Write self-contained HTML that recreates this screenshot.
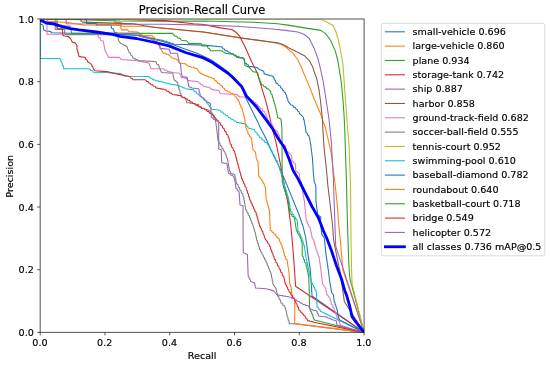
<!DOCTYPE html>
<html lang="en"><head><meta charset="utf-8"><title>Precision-Recall Curve</title>
<style>html,body{margin:0;padding:0;background:#fff}body{width:550px;height:367px;overflow:hidden}svg{display:block}text{font-family:"DejaVu Sans","Liberation Sans",sans-serif;fill:#000;stroke:#000;stroke-width:0.16px;stroke-linejoin:round}</style></head><body>
<svg width="550" height="367" viewBox="0 0 550 367">
<rect width="550" height="367" fill="#fff"/>
<defs><clipPath id="ax"><rect x="40.20" y="19.50" width="323.85" height="312.90"/></clipPath></defs>
<g clip-path="url(#ax)" fill="none" stroke-linejoin="round" stroke-linecap="butt">
<polyline stroke="#1f77b4" stroke-width="1.08" points="40.2,19.0 40.8,24.2 43.0,25.0 43.7,29.9 46.2,31.1 50.3,31.5 52.0,32.8 70.0,33.2 100.0,33.6 120.0,34.5 138.0,35.3 161.0,41.0 174.0,45.1 185.5,49.2 197.0,53.3 204.0,56.5 212.0,60.5 220.0,66.0 228.0,72.0 236.0,80.0 242.0,88.0 245.7,97.8 253.0,112.5 258.0,122.4 260.0,127.0 266.2,139.0 272.7,153.8 279.3,167.0 284.2,178.4 286.5,184.0 292.4,198.4 299.0,214.7 303.0,226.2 305.8,238.0 308.0,254.4 310.4,270.7 311.5,287.0 312.0,296.0 364.1,332.4"/>
<polyline stroke="#ff7f0e" stroke-width="1.08" points="40.2,19.0 114.8,19.0 114.8,22.5 121.0,22.5 121.3,26.2 144.5,26.2 156.8,27.7 165.0,28.5 204.0,32.2 240.0,37.9 269.5,42.0 277.0,43.2 281.0,44.6 285.8,47.0 288.0,49.2 293.0,53.3 297.8,59.8 301.0,66.4 303.0,71.5 309.3,86.4 315.8,102.7 320.7,114.2 324.0,124.0 325.5,128.0 328.0,139.0 331.4,153.8 333.0,168.5 335.1,184.0 337.4,206.5 339.0,227.8 340.3,240.0 341.5,254.4 343.0,270.7 364.1,332.4"/>
<polyline stroke="#2ca02c" stroke-width="1.08" points="40.2,19.0 80.0,19.6 120.0,21.0 165.0,21.3 204.0,21.0 253.0,22.2 277.6,23.8 288.0,25.1 304.4,27.9 320.7,30.4 325.6,33.6 330.5,40.2 335.5,51.6 338.0,61.5 339.7,72.0 341.2,81.5 342.8,97.8 344.0,114.2 344.7,128.0 345.3,147.3 346.0,167.0 346.5,184.0 347.2,214.7 348.0,240.0 348.8,262.5 349.5,274.0 350.2,280.0 351.8,285.5 364.1,332.4"/>
<polyline stroke="#d62728" stroke-width="1.08" points="40.2,19.0 120.0,19.4 165.0,20.6 193.6,23.8 204.0,24.6 220.4,27.9 231.8,29.5 236.7,32.8 240.0,36.9 245.0,46.7 251.5,61.5 256.8,72.0 261.3,86.4 266.2,102.7 269.5,115.8 272.0,127.5 276.0,142.4 279.3,158.7 282.5,175.0 284.0,183.0 287.9,203.3 290.7,224.5 292.2,240.0 294.0,262.5 295.6,286.3 364.1,332.4"/>
<polyline stroke="#9467bd" stroke-width="1.08" points="40.2,19.0 66.2,19.0 66.2,23.8 125.0,24.2 165.0,24.2 204.0,25.1 236.7,26.3 269.5,28.7 285.8,30.4 297.8,32.0 304.4,34.5 309.3,38.5 314.2,48.4 318.3,59.8 320.7,69.8 323.2,81.5 326.5,102.7 329.0,119.0 329.9,128.0 331.4,142.4 332.5,163.0 333.3,177.0 334.6,214.7 335.7,246.2 364.1,332.4"/>
<polyline stroke="#8c564b" stroke-width="1.08" points="40.2,19.0 80.8,19.0 80.8,20.9 82.5,22.1 120.0,23.4 134.0,23.8 144.5,25.8 156.8,27.5 165.0,28.3 204.0,32.0 240.0,37.7 269.5,41.8 276.0,42.6 281.0,43.8 285.0,45.5 288.0,47.5 296.2,51.6 304.4,55.7 309.3,60.6 312.5,66.4 314.2,71.8 316.6,78.2 319.0,89.6 320.7,102.7 322.4,119.0 322.8,128.0 324.0,147.3 326.5,170.2 327.7,184.0 330.0,203.3 332.5,224.5 333.6,240.0 337.4,259.3 340.6,274.0 342.3,287.0 343.0,292.2 344.4,301.7 364.1,332.4"/>
<polyline stroke="#e377c2" stroke-width="1.08" points="40.2,19.0 47.0,19.0 47.0,34.3 98.0,34.3 98.4,37.3 100.0,37.7 100.5,40.5 103.1,41.0 103.4,41.3 103.6,43.7 104.0,44.1 104.2,46.5 104.5,46.8 104.7,49.2 106.4,53.3 108.8,57.4 119.5,57.4 121.0,59.5 136.0,60.6 138.0,60.7 139.2,61.2 141.1,61.3 142.3,61.9 144.3,61.9 145.5,62.5 147.4,62.6 148.6,63.1 149.3,63.4 149.8,66.0 150.5,66.3 151.0,68.8 162.5,68.8 164.1,69.0 165.0,70.2 166.6,70.3 167.5,71.5 169.0,71.6 169.9,72.0 171.5,72.1 172.4,72.5 179.7,73.3 181.4,77.4 185.5,78.2 188.7,80.6 197.0,81.5 198.3,81.7 199.2,83.1 200.5,83.3 201.3,84.8 202.7,85.0 203.5,86.4 205.5,86.5 206.8,87.2 208.8,87.3 210.0,88.0 212.0,89.6 218.7,90.5 220.4,93.7 236.7,94.5 240.0,97.0 246.5,97.0 248.1,97.2 249.0,98.7 250.6,98.8 251.5,100.3 253.0,100.5 253.9,102.3 255.5,102.6 256.4,104.4 257.7,104.6 258.4,106.5 259.7,106.7 260.5,108.5 262.0,108.8 262.9,111.2 264.5,111.6 265.4,114.0 266.1,114.4 266.4,117.0 267.1,117.4 267.5,120.0 271.0,122.5 271.8,122.9 272.2,125.5 273.0,125.9 273.5,128.5 276.5,131.0 277.5,131.4 278.1,134.2 279.0,134.6 279.6,137.5 280.0,143.5 284.5,145.0 285.1,145.4 285.5,148.0 286.1,148.4 286.5,151.0 288.8,152.5 291.8,156.0 292.0,161.0 293.1,161.2 293.8,163.0 294.9,163.2 295.6,165.0 295.8,171.0 297.0,171.2 297.7,172.8 298.9,173.0 299.6,174.5 299.8,179.0 301.5,183.0 302.2,190.0 302.6,190.4 302.8,193.3 303.2,193.7 303.4,196.6 303.8,197.0 304.0,200.0 304.4,200.4 304.6,203.3 306.3,221.3 307.1,221.6 307.7,224.0 308.5,224.4 309.0,226.8 309.9,227.1 310.4,229.5 310.7,229.8 310.9,232.2 311.3,232.5 311.5,234.9 311.8,235.2 312.0,237.6 313.5,240.0 314.0,240.4 314.3,243.2 314.8,243.5 315.2,246.3 315.7,246.7 316.0,249.5 316.7,249.9 317.1,252.8 317.8,253.2 318.3,256.0 319.0,256.4 319.4,259.3 321.0,270.7 322.6,284.0 325.3,288.0 325.7,288.4 326.0,291.1 326.4,291.5 326.7,294.2 329.4,297.6 330.1,298.0 330.4,301.1 331.1,301.5 331.5,304.5 332.6,304.9 333.2,307.9 334.3,308.3 334.9,311.3 335.6,311.7 335.9,314.6 336.6,315.1 337.0,318.0 337.8,318.3 338.4,320.8 339.2,321.1 339.7,323.6 341.0,325.6 364.1,332.4"/>
<polyline stroke="#7f7f7f" stroke-width="1.08" points="40.2,19.0 55.2,19.0 55.2,29.5 64.6,29.5 64.6,33.6 66.0,34.6 117.6,34.7 118.5,40.5 121.0,43.8 122.7,44.0 123.8,45.2 125.5,45.4 126.5,46.7 127.3,47.0 127.8,49.6 128.5,49.9 129.0,52.5 130.2,52.8 131.0,55.4 132.2,55.7 133.0,58.2 134.6,58.3 135.5,59.4 137.1,59.5 138.0,60.6 154.4,61.5 155.9,61.8 156.9,64.3 158.4,64.7 159.3,67.2 161.0,71.3 161.7,72.5 172.4,73.3 172.9,73.7 173.2,76.5 173.7,76.9 174.0,79.8 177.3,82.3 177.8,82.7 178.2,85.9 178.7,86.4 179.0,89.6 179.7,90.0 180.2,93.3 180.9,93.7 181.4,97.0 185.5,98.6 187.0,102.7 189.1,102.8 190.3,103.3 192.4,103.3 193.7,103.8 195.7,103.9 197.0,104.4 198.5,104.6 199.4,106.5 200.9,106.7 201.8,108.5 204.0,108.6 205.4,109.5 207.6,109.6 209.0,110.5 210.2,110.8 211.0,112.8 212.2,113.0 213.0,115.0 213.8,115.3 214.2,117.8 215.0,118.2 215.5,120.7 216.6,128.0 218.0,140.7 218.7,141.0 219.2,143.1 219.9,143.4 220.4,145.6 221.4,145.9 222.0,148.3 223.0,148.7 223.7,151.1 224.7,151.4 225.3,153.8 226.0,154.2 226.5,157.5 227.2,157.9 227.7,161.2 228.1,161.6 228.3,164.2 228.6,164.6 228.8,167.2 229.2,167.6 229.4,170.2 231.0,173.5 234.3,174.3 234.8,174.7 235.2,177.9 235.7,178.4 236.0,181.6 237.0,184.0 237.9,184.4 238.5,187.0 239.4,187.4 240.0,190.0 241.0,190.4 241.7,193.3 242.7,193.8 243.3,196.7 243.7,197.1 243.9,200.0 244.3,200.4 244.5,203.2 244.9,203.6 245.1,206.5 245.5,206.9 245.7,209.8 246.5,210.1 247.1,212.5 247.9,212.9 248.4,215.3 249.3,215.6 249.8,218.0 250.5,218.3 250.9,220.7 251.5,221.1 251.9,223.5 252.6,223.8 253.0,226.2 253.5,226.5 253.8,228.9 254.4,229.3 254.7,231.7 255.2,232.0 255.5,234.4 255.8,234.7 256.1,237.2 256.4,237.5 256.6,240.0 257.2,240.4 257.6,243.2 258.2,243.5 258.6,246.3 259.2,246.7 259.6,249.5 260.4,249.8 260.9,252.1 261.7,252.4 262.2,254.7 263.1,255.0 263.6,257.3 264.4,257.6 264.9,259.9 265.7,260.2 266.2,262.5 266.9,262.8 267.4,265.4 268.1,265.7 268.6,268.2 269.3,268.6 269.8,271.1 270.5,271.5 271.0,274.0 271.4,274.4 271.6,277.3 272.0,277.7 272.3,280.7 272.7,281.1 272.9,284.0 275.6,288.0 276.0,288.3 276.3,290.8 276.7,291.1 277.0,293.5 277.4,293.9 277.7,296.3 278.7,296.7 279.4,299.6 280.4,300.1 281.0,303.0 282.3,303.3 283.1,305.5 284.4,305.8 285.2,308.0 285.6,308.3 285.9,310.9 286.3,311.2 286.5,313.8 286.9,314.1 287.2,316.7 287.9,317.1 288.2,320.1 288.9,320.6 289.3,323.6 294.7,323.8 364.1,332.4"/>
<polyline stroke="#bcbd22" stroke-width="1.08" points="40.2,19.0 320.7,19.1 327.3,22.2 333.0,25.5 335.5,30.4 338.0,38.5 340.4,50.0 342.8,63.1 343.5,72.0 344.5,86.4 345.6,102.7 347.0,119.0 347.5,128.0 348.9,142.4 349.9,167.0 350.5,184.0 351.0,240.0 351.6,270.7 352.1,284.0 364.1,332.4"/>
<polyline stroke="#17becf" stroke-width="1.08" points="40.2,19.0 40.2,58.5 59.7,58.5 60.5,58.9 61.1,61.9 61.9,62.3 62.4,65.4 63.3,65.8 63.8,68.8 88.4,68.8 89.9,69.0 90.8,70.5 92.4,70.8 93.3,72.3 106.4,72.5 121.0,73.6 125.0,76.2 147.8,76.5 149.3,76.7 150.2,78.2 151.8,78.3 152.7,79.8 154.7,79.9 156.0,80.6 158.0,80.7 159.2,81.5 161.3,81.6 162.5,82.3 164.5,82.4 165.8,83.1 167.8,83.2 169.0,83.9 170.7,84.0 171.8,84.4 173.5,84.5 174.5,85.0 176.2,85.0 177.3,85.5 179.0,85.6 180.0,86.6 181.7,86.7 182.8,87.7 184.5,87.8 185.5,88.8 192.0,89.6 193.6,89.8 194.5,91.7 196.1,91.9 197.0,93.7 198.5,93.9 199.4,95.8 200.9,96.0 201.8,97.8 203.3,98.1 204.2,100.2 205.8,100.5 206.7,102.7 207.7,103.0 208.3,104.9 209.2,105.2 209.8,107.1 210.8,107.4 211.4,109.3 218.7,110.0 220.2,110.2 221.1,111.9 222.7,112.1 223.6,113.8 225.1,114.0 226.1,115.6 227.6,115.8 228.5,117.5 230.2,117.7 231.2,119.1 232.9,119.3 234.0,120.8 235.7,121.0 236.7,122.4 238.4,122.5 239.5,122.9 241.2,123.0 242.2,123.5 243.9,123.5 245.0,124.0 246.0,124.2 246.6,126.0 247.6,126.2 248.2,128.0 253.0,129.3 254.4,129.6 255.2,132.0 256.6,132.4 257.4,134.8 258.8,135.1 259.6,137.5 261.3,137.8 262.3,139.9 264.0,140.2 265.1,142.4 266.8,142.7 267.8,144.8 268.8,145.2 269.4,147.8 270.4,148.2 271.1,150.8 272.1,151.2 272.7,153.8 273.7,154.2 274.3,157.1 275.3,157.5 276.0,160.3 277.0,160.7 277.6,163.6 278.3,164.0 278.7,166.9 279.4,167.3 279.9,170.2 280.6,170.6 281.0,173.5 281.6,173.9 281.9,177.0 282.5,177.4 282.9,180.5 283.4,180.9 283.8,184.0 284.4,184.3 284.7,186.9 285.3,187.2 285.6,189.8 286.2,190.1 286.5,192.6 287.1,193.0 287.4,195.5 288.0,195.9 288.3,198.4 288.7,198.8 288.9,201.7 289.3,202.1 289.5,205.0 289.9,205.3 290.1,208.2 290.5,208.6 290.7,211.5 291.7,211.8 292.4,213.9 293.4,214.2 294.0,216.4 295.0,216.7 295.6,218.9 296.7,219.1 297.3,221.3 298.0,231.0 298.9,231.4 299.4,234.0 300.3,234.4 300.8,237.0 301.7,237.4 302.2,240.0 302.7,240.3 303.0,242.6 303.5,242.9 303.8,245.2 304.3,245.5 304.6,247.8 306.3,259.3 306.7,259.6 306.9,262.1 307.3,262.5 307.5,265.0 307.9,265.3 308.1,267.9 308.5,268.2 308.7,270.7 309.1,271.0 309.3,273.6 309.7,273.9 309.9,276.4 310.3,276.8 310.6,279.3 311.0,279.7 311.2,282.2 312.0,282.5 312.4,284.6 313.2,284.9 313.7,287.0 314.6,287.4 315.1,290.2 316.0,290.6 316.5,293.5 317.1,307.2 318.2,307.4 318.8,309.2 319.9,309.5 320.5,311.3 364.1,332.4"/>
<polyline stroke="#1f77b4" stroke-width="1.08" points="40.2,19.0 86.5,19.0 86.5,23.4 96.0,23.4 96.5,25.0 111.0,25.0 111.5,28.3 113.5,29.1 114.4,32.4 116.1,32.5 117.2,33.5 118.9,33.6 120.0,34.5 138.0,35.3 139.9,35.4 141.0,36.0 142.9,36.1 144.0,36.6 145.9,36.7 147.0,37.3 148.9,37.4 150.0,38.0 151.7,38.1 152.8,38.5 154.5,38.6 155.5,39.1 157.2,39.2 158.2,39.7 160.0,39.7 161.0,40.2 163.0,40.3 164.2,41.2 166.3,41.3 167.5,42.2 169.5,42.4 170.8,43.3 172.8,43.4 174.0,44.3 204.0,45.1 220.4,46.7 221.9,46.9 222.9,48.8 224.4,49.0 225.3,50.8 227.1,50.9 228.2,52.0 229.9,52.2 231.0,53.3 232.8,53.5 233.8,55.0 235.6,55.1 236.7,56.6 239.0,56.7 240.3,57.8 242.6,57.9 244.0,59.0 245.0,63.1 246.2,63.3 247.0,64.8 248.2,64.9 249.0,66.4 256.4,67.2 259.6,69.6 263.7,71.3 264.2,74.0 266.0,74.1 267.0,74.8 268.8,74.9 269.9,75.7 271.6,75.8 272.7,76.5 273.7,76.9 274.4,79.8 275.4,80.2 276.0,83.1 277.6,83.4 278.5,85.5 280.1,85.8 281.0,88.0 282.0,88.3 282.6,90.2 283.6,90.4 284.2,92.3 285.2,92.6 285.8,94.5 286.5,94.9 286.9,97.8 287.6,98.2 288.0,101.1 291.0,105.0 292.6,105.3 293.6,107.2 295.2,107.4 296.2,109.3 297.2,109.5 297.9,111.3 298.9,111.6 299.5,113.4 302.7,116.6 303.2,116.9 303.5,119.5 304.1,119.8 304.4,122.4 305.2,126.0 306.0,132.5 307.0,132.8 307.6,135.0 308.7,135.3 309.3,137.5 309.7,137.9 309.9,140.8 310.2,141.2 310.4,144.0 310.8,144.4 311.0,147.3 312.5,158.7 313.4,173.5 314.2,181.6 315.8,185.7 316.0,201.6 317.7,214.7 321.0,217.2 320.2,221.3 321.8,234.4 324.3,238.0 326.0,254.4 328.4,270.7 330.0,284.0 330.3,284.3 330.5,286.7 330.8,287.1 331.0,289.5 331.3,289.8 331.5,292.2 333.5,295.0 334.2,301.7 334.8,302.0 335.1,304.5 335.7,304.8 336.1,307.2 336.6,307.6 337.0,310.0 337.4,310.4 337.6,313.4 338.1,313.8 338.3,316.7 339.7,320.0 364.1,332.4"/>
<polyline stroke="#ff7f0e" stroke-width="1.08" points="40.2,19.0 47.8,19.0 47.8,21.3 66.6,22.5 68.6,22.6 69.9,23.0 71.9,23.1 73.2,23.5 75.2,23.6 76.4,24.0 78.5,24.1 79.7,24.5 81.8,24.6 83.0,25.0 120.5,25.4 121.2,29.9 127.8,29.9 128.6,31.5 138.0,32.0 139.2,33.6 143.0,35.2 151.0,35.6 152.3,35.8 153.1,37.2 154.4,37.4 155.2,38.9 155.9,39.2 156.4,41.6 157.1,41.9 157.6,44.3 159.3,44.5 161.0,49.2 163.4,53.3 165.1,53.4 166.2,54.1 167.9,54.3 169.0,55.0 172.4,58.2 173.9,58.3 174.9,59.0 176.4,59.1 177.3,59.8 179.7,63.1 181.5,63.2 182.6,63.5 184.4,63.6 185.5,64.0 188.7,66.4 190.4,66.5 191.5,67.2 193.2,67.3 194.2,68.0 195.9,68.1 197.0,68.8 198.5,71.0 200.2,73.3 201.7,73.4 202.6,74.5 204.1,74.6 205.0,75.7 207.2,75.9 208.5,77.0 210.7,77.1 212.0,78.2 213.7,78.5 214.8,80.6 216.5,80.9 217.6,83.1 219.3,83.4 220.4,85.5 221.9,85.8 222.9,88.0 224.4,88.3 225.3,90.5 227.0,90.7 228.0,91.8 229.7,92.0 230.8,93.2 232.5,93.3 233.5,94.5 234.5,94.8 235.1,96.7 236.1,97.0 236.8,98.9 237.8,99.2 238.4,101.1 239.2,101.5 239.8,104.4 240.6,104.8 241.1,107.6 242.0,108.0 242.5,110.9 243.0,111.3 243.3,114.2 243.9,114.6 244.2,117.4 244.7,117.8 245.0,120.7 245.9,128.0 246.6,128.4 247.1,131.1 247.8,131.5 248.2,134.2 249.2,134.5 249.8,136.6 250.9,136.9 251.5,139.0 253.0,149.7 255.5,152.2 256.4,158.7 258.0,162.0 258.8,176.7 259.8,176.9 260.4,178.8 261.4,179.0 262.0,180.8 262.8,181.1 263.2,183.2 264.0,183.5 264.5,185.7 265.4,187.0 266.2,200.0 266.7,200.3 267.0,202.9 267.5,203.2 267.8,205.8 268.4,206.1 268.7,208.6 269.2,209.0 269.5,211.5 270.3,230.3 271.5,230.5 272.2,232.2 273.4,232.4 274.1,234.1 275.3,234.3 276.0,236.0 278.5,238.5 279.3,238.9 279.8,241.8 280.7,242.2 281.2,245.2 282.0,245.6 282.5,248.5 283.1,248.9 283.5,252.2 284.1,252.7 284.5,256.0 285.4,256.4 286.0,259.2 286.9,259.6 287.5,262.5 289.0,273.0 289.8,284.0 291.3,288.0 292.0,296.3 294.7,299.0 294.7,323.6 364.1,332.4"/>
<polyline stroke="#2ca02c" stroke-width="1.08" points="40.2,19.0 57.0,19.0 57.2,28.7 71.0,28.9 71.4,33.2 172.4,33.4 174.8,36.1 176.8,36.3 178.1,38.2 180.1,38.4 181.4,40.2 187.0,41.0 188.7,43.5 201.0,43.5 202.0,45.9 206.0,45.9 207.4,46.2 208.2,48.3 209.6,48.6 210.5,50.8 220.4,50.8 221.9,50.9 222.9,52.0 224.4,52.2 225.3,53.3 231.8,54.1 233.3,54.3 234.2,55.8 235.8,55.9 236.7,57.4 244.0,58.2 245.0,65.6 249.0,67.2 252.0,70.5 253.0,71.6 257.2,72.5 257.7,72.8 258.0,75.3 258.5,75.7 258.8,78.2 259.6,78.6 260.1,81.5 260.8,81.8 261.3,84.7 263.0,84.9 264.0,86.6 265.7,86.9 266.8,88.6 268.5,88.8 269.5,90.5 270.5,90.9 271.1,94.2 272.1,94.6 272.7,97.8 273.2,98.1 273.5,100.7 274.0,101.0 274.3,103.5 274.9,103.9 275.2,106.4 275.7,106.8 276.0,109.3 276.3,109.6 276.5,112.0 276.9,112.4 277.1,114.8 277.4,115.1 277.6,117.5 281.0,119.0 281.9,128.0 282.2,182.0 282.7,182.4 283.0,185.2 283.5,185.6 283.8,188.5 284.5,188.9 284.9,191.8 285.6,192.1 286.1,195.0 286.7,195.4 287.2,198.2 287.9,198.6 288.3,201.5 290.0,214.0 291.4,214.3 292.3,216.5 293.7,216.8 294.6,219.0 296.5,231.0 297.3,231.3 297.8,233.5 298.7,233.8 299.2,236.0 300.0,236.3 300.5,238.5 301.0,238.9 301.4,241.5 301.9,241.9 302.2,244.5 302.2,256.0 303.0,256.4 303.6,259.3 304.4,259.7 304.9,262.5 305.8,262.9 306.3,265.8 306.7,266.1 306.9,268.7 307.3,269.0 307.5,271.6 307.9,271.9 308.1,274.4 308.5,274.8 308.7,277.3 309.2,290.0 309.6,308.5 310.3,308.8 310.7,311.2 311.4,311.6 311.9,314.0 312.6,314.3 313.0,316.7 314.4,320.0 364.1,332.4"/>
<polyline stroke="#d62728" stroke-width="1.08" points="40.2,19.0 41.0,20.3 42.6,20.5 43.6,21.8 45.2,21.9 46.2,23.2 47.9,23.3 48.9,23.7 50.6,23.7 51.7,24.1 53.4,24.2 54.4,24.6 55.4,24.8 56.0,26.6 57.0,26.9 57.6,28.7 62.5,29.1 62.7,34.8 64.2,36.0 68.3,36.5 70.7,38.9 72.4,42.2 74.8,42.6 77.0,45.5 76.9,49.2 77.5,49.6 77.9,52.9 78.5,53.3 78.9,56.5 80.6,56.6 81.6,57.0 83.3,57.0 84.3,57.4 85.3,57.6 85.9,59.5 86.9,59.7 87.5,61.5 90.8,63.9 91.6,64.2 92.0,66.3 92.8,66.6 93.3,68.8 95.0,70.8 106.4,71.6 108.4,71.7 109.7,72.4 111.7,72.6 113.0,73.3 114.7,73.4 115.7,73.8 117.3,73.9 118.3,74.4 120.0,74.4 121.0,74.9 122.7,75.0 123.7,75.4 125.3,75.5 126.3,76.0 128.0,76.0 129.0,76.5 130.2,76.7 131.0,78.2 132.2,78.3 133.0,79.8 144.5,79.8 145.8,80.0 146.7,81.4 148.0,81.6 148.8,83.1 150.2,83.3 151.0,84.7 152.6,84.9 153.5,86.3 155.1,86.5 156.0,88.0 157.7,88.1 158.7,88.5 160.4,88.6 161.5,89.1 163.2,89.1 164.2,89.6 165.9,89.8 166.9,91.2 168.6,91.4 169.7,92.9 171.4,93.1 172.4,94.5 179.0,95.4 181.0,95.6 182.2,97.0 184.3,97.2 185.5,98.6 187.0,98.8 187.9,100.2 189.5,100.4 190.4,101.9 192.1,102.1 193.1,103.5 194.8,103.7 195.8,105.2 197.5,105.4 198.5,106.8 200.5,107.0 201.8,108.2 203.8,108.4 205.0,109.6 206.4,109.8 207.3,111.4 208.8,111.6 209.7,113.2 211.1,113.4 212.0,115.0 213.4,115.3 214.2,117.5 215.6,117.8 216.5,119.9 217.9,120.2 218.7,122.4 220.0,122.7 220.8,125.2 222.0,125.5 222.8,128.0 224.0,128.4 224.7,131.2 225.9,131.5 226.6,134.3 227.8,134.7 228.5,137.5 229.0,137.9 229.3,140.8 229.9,141.1 230.2,144.0 231.2,144.4 231.8,147.3 232.8,147.7 233.4,150.5 234.4,150.9 235.0,153.8 235.5,154.2 235.8,157.1 236.4,157.5 236.7,160.4 237.2,160.8 237.5,163.7 238.1,164.1 238.4,167.0 238.9,167.3 239.2,169.8 239.7,170.2 240.0,172.7 240.5,173.0 240.8,175.5 241.3,175.9 241.6,178.4 242.3,178.7 242.7,180.9 243.4,181.3 243.8,183.5 244.6,183.9 245.2,186.8 246.0,187.1 246.5,190.0 247.2,190.4 247.6,193.3 248.3,193.7 248.7,196.7 249.4,197.1 249.8,200.0 250.6,200.4 251.1,202.9 251.9,203.3 252.4,205.9 253.3,206.2 253.8,208.8 254.6,209.2 255.1,211.8 255.9,212.1 256.4,214.7 256.9,215.0 257.2,217.6 257.7,217.9 258.0,220.4 258.5,220.8 258.8,223.3 259.3,223.7 259.6,226.2 260.3,226.5 260.8,228.6 261.5,228.9 262.0,231.0 262.8,231.4 263.2,234.3 264.0,234.7 264.5,237.6 266.5,241.0 267.4,241.3 268.0,243.6 268.9,243.9 269.5,246.2 270.3,246.6 270.7,249.5 271.5,249.9 272.0,252.8 272.7,253.1 273.2,256.0 273.9,256.4 274.4,259.3 275.4,259.7 276.0,262.5 277.0,262.9 277.7,265.8 278.7,266.2 279.3,269.0 280.3,269.4 280.9,272.3 281.9,272.7 282.6,275.7 283.6,276.1 284.2,279.0 284.5,279.3 284.7,281.5 285.0,281.8 285.2,284.0 286.0,284.3 286.6,286.7 287.4,287.1 287.9,289.5 288.8,289.8 289.3,292.2 290.4,292.5 291.1,294.9 292.2,295.3 292.9,297.7 294.0,298.0 294.7,300.4 295.5,300.8 296.1,303.6 296.9,304.0 297.4,306.8 298.3,307.2 298.8,310.0 299.9,310.2 300.6,312.0 301.7,312.2 302.4,314.0 303.5,314.2 304.2,316.0 305.3,316.3 305.9,318.4 307.0,318.7 307.6,320.8 309.5,320.9 310.6,321.5 312.5,321.6 313.7,322.2 364.1,332.4"/>
<polyline stroke="#9467bd" stroke-width="1.08" points="40.2,19.0 44.0,19.0 44.0,22.5 56.0,22.5 56.0,26.0 70.0,26.0 70.0,29.5 84.0,29.5 84.0,31.5 100.0,31.5 100.0,33.2 139.2,33.2 139.4,36.5 141.6,36.6 142.9,37.3 145.1,37.4 146.5,38.2 148.7,38.3 150.0,39.0 151.6,39.1 152.5,40.2 154.1,40.3 155.1,41.4 156.6,41.5 157.6,42.6 158.3,42.9 158.8,45.5 159.5,45.8 160.0,48.4 169.0,49.2 170.7,53.3 177.3,53.3 177.7,53.6 177.9,56.0 178.2,56.4 178.4,58.8 178.8,59.1 179.0,61.5 180.6,64.0 181.2,72.0 182.2,76.5 187.0,77.4 187.4,77.8 187.6,80.4 187.9,80.8 188.1,83.4 188.5,83.8 188.7,86.4 192.0,88.0 198.5,88.8 199.0,89.2 199.3,92.5 199.9,92.9 200.2,96.2 201.5,96.4 202.3,97.8 203.7,98.0 204.5,99.5 207.3,101.9 210.5,103.5 211.4,117.5 212.7,117.7 213.4,119.1 214.7,119.3 215.5,120.7 218.7,121.5 218.7,149.0 221.2,149.7 221.7,162.8 223.3,162.8 224.3,163.2 226.0,163.2 227.0,163.6 228.5,173.5 230.1,173.7 231.0,175.1 232.6,175.3 233.5,176.7 234.1,177.1 234.5,180.3 235.1,180.8 235.5,184.0 236.0,188.5 237.0,188.7 237.6,190.6 238.6,190.8 239.2,192.6 240.0,205.0 243.0,205.7 243.1,238.0 243.3,252.7 247.4,254.4 248.2,276.5 248.9,276.8 249.4,278.9 250.1,279.2 250.6,281.4 254.7,283.0 255.5,288.0 266.2,288.7 268.8,289.5 270.5,289.6 271.6,290.5 273.3,290.6 274.3,291.5 277.0,295.0 278.9,295.1 280.1,295.5 282.0,295.6 283.1,296.0 285.1,296.1 286.2,296.5 288.1,296.6 289.3,297.0 291.0,297.2 292.0,298.4 293.7,298.5 294.7,299.7 296.4,299.9 297.5,301.3 299.2,301.5 300.2,302.9 301.9,303.1 303.0,304.5 304.9,304.6 306.0,305.5 307.9,305.6 309.0,306.5 309.6,309.2 311.7,309.3 313.1,310.2 315.2,310.4 316.5,311.3 317.1,311.6 317.5,313.6 318.1,313.9 318.5,316.0 324.6,316.7 326.7,316.9 328.1,318.1 330.2,318.3 331.5,319.5 336.2,320.8 337.0,325.0 341.0,326.3 364.1,332.4"/>
<polyline stroke="#0000ff" stroke-width="2.80" points="40.2,20.1 46.2,23.0 54.4,24.2 62.5,26.6 70.7,28.7 79.0,29.9 96.4,32.0 112.7,34.4 120.0,36.3 136.4,38.5 152.7,42.0 169.0,45.9 185.5,52.5 201.8,57.4 204.0,58.2 212.0,62.3 220.4,68.0 228.5,73.7 231.8,76.5 241.6,86.4 246.5,96.2 256.4,106.8 266.2,119.9 272.7,128.9 277.6,137.5 284.2,147.3 289.0,158.7 293.0,170.2 297.8,178.4 299.7,182.0 305.5,193.5 312.0,206.5 318.5,218.0 323.5,231.0 326.7,238.0 331.6,251.0 336.5,265.8 341.5,279.0 344.7,290.4 346.5,295.0 350.0,307.2 352.0,316.7 356.0,322.2 364.1,332.4"/>
</g>
<rect x="40.2" y="19.0" width="323.9" height="313.4" fill="none" stroke="#000" stroke-opacity="0.62" stroke-width="1.1"/>
<g stroke="#000" stroke-opacity="0.7" stroke-width="0.95"><line x1="40.20" y1="332.4" x2="40.20" y2="335.4"/><line x1="40.2" y1="332.40" x2="37.2" y2="332.40"/><line x1="104.97" y1="332.4" x2="104.97" y2="335.4"/><line x1="40.2" y1="269.72" x2="37.2" y2="269.72"/><line x1="169.74" y1="332.4" x2="169.74" y2="335.4"/><line x1="40.2" y1="207.04" x2="37.2" y2="207.04"/><line x1="234.51" y1="332.4" x2="234.51" y2="335.4"/><line x1="40.2" y1="144.36" x2="37.2" y2="144.36"/><line x1="299.28" y1="332.4" x2="299.28" y2="335.4"/><line x1="40.2" y1="81.68" x2="37.2" y2="81.68"/><line x1="364.05" y1="332.4" x2="364.05" y2="335.4"/><line x1="40.2" y1="19.00" x2="37.2" y2="19.00"/></g>
<g font-size="9.58"><text x="39.90" y="345.6" text-anchor="middle">0.0</text><text x="33.8" y="336.15" text-anchor="end">0.0</text><text x="104.67" y="345.6" text-anchor="middle">0.2</text><text x="33.8" y="273.47" text-anchor="end">0.2</text><text x="169.44" y="345.6" text-anchor="middle">0.4</text><text x="33.8" y="210.79" text-anchor="end">0.4</text><text x="234.21" y="345.6" text-anchor="middle">0.6</text><text x="33.8" y="148.11" text-anchor="end">0.6</text><text x="298.98" y="345.6" text-anchor="middle">0.8</text><text x="33.8" y="85.43" text-anchor="end">0.8</text><text x="363.75" y="345.6" text-anchor="middle">1.0</text><text x="33.8" y="22.75" text-anchor="end">1.0</text></g>
<text x="202.1" y="358.5" text-anchor="middle" font-size="9.58">Recall</text>
<text transform="translate(13.4,176.3) rotate(-90)" text-anchor="middle" font-size="9.58">Precision</text>
<text x="202.1" y="14.3" text-anchor="middle" font-size="11.45">Precision-Recall Curve</text>
<rect x="381.3" y="23.4" width="163.5" height="232.4" rx="1.7" ry="1.7" fill="#fff" fill-opacity="0.8" stroke="#ccc" stroke-width="0.7"/>
<g font-size="9.58" stroke-linecap="square"><line x1="385.4" y1="31.80" x2="404.4" y2="31.80" stroke="#1f77b4" stroke-width="1.08"/><text x="412.6" y="35.15">small-vehicle 0.696</text><line x1="385.4" y1="46.13" x2="404.4" y2="46.13" stroke="#ff7f0e" stroke-width="1.08"/><text x="412.6" y="49.48">large-vehicle 0.860</text><line x1="385.4" y1="60.46" x2="404.4" y2="60.46" stroke="#2ca02c" stroke-width="1.08"/><text x="412.6" y="63.81">plane 0.934</text><line x1="385.4" y1="74.79" x2="404.4" y2="74.79" stroke="#d62728" stroke-width="1.08"/><text x="412.6" y="78.14">storage-tank 0.742</text><line x1="385.4" y1="89.12" x2="404.4" y2="89.12" stroke="#9467bd" stroke-width="1.08"/><text x="412.6" y="92.47">ship 0.887</text><line x1="385.4" y1="103.45" x2="404.4" y2="103.45" stroke="#8c564b" stroke-width="1.08"/><text x="412.6" y="106.80">harbor 0.858</text><line x1="385.4" y1="117.78" x2="404.4" y2="117.78" stroke="#e377c2" stroke-width="1.08"/><text x="412.6" y="121.13">ground-track-field 0.682</text><line x1="385.4" y1="132.11" x2="404.4" y2="132.11" stroke="#7f7f7f" stroke-width="1.08"/><text x="412.6" y="135.46">soccer-ball-field 0.555</text><line x1="385.4" y1="146.44" x2="404.4" y2="146.44" stroke="#bcbd22" stroke-width="1.08"/><text x="412.6" y="149.79">tennis-court 0.952</text><line x1="385.4" y1="160.77" x2="404.4" y2="160.77" stroke="#17becf" stroke-width="1.08"/><text x="412.6" y="164.12">swimming-pool 0.610</text><line x1="385.4" y1="175.10" x2="404.4" y2="175.10" stroke="#1f77b4" stroke-width="1.08"/><text x="412.6" y="178.45">baseball-diamond 0.782</text><line x1="385.4" y1="189.43" x2="404.4" y2="189.43" stroke="#ff7f0e" stroke-width="1.08"/><text x="412.6" y="192.78">roundabout 0.640</text><line x1="385.4" y1="203.76" x2="404.4" y2="203.76" stroke="#2ca02c" stroke-width="1.08"/><text x="412.6" y="207.11">basketball-court 0.718</text><line x1="385.4" y1="218.09" x2="404.4" y2="218.09" stroke="#d62728" stroke-width="1.08"/><text x="412.6" y="221.44">bridge 0.549</text><line x1="385.4" y1="232.42" x2="404.4" y2="232.42" stroke="#9467bd" stroke-width="1.08"/><text x="412.6" y="235.77">helicopter 0.572</text><line x1="385.4" y1="246.75" x2="404.4" y2="246.75" stroke="#0000ff" stroke-width="2.80"/><text x="412.6" y="250.10">all classes 0.736 mAP@0.5</text></g>
</svg></body></html>
